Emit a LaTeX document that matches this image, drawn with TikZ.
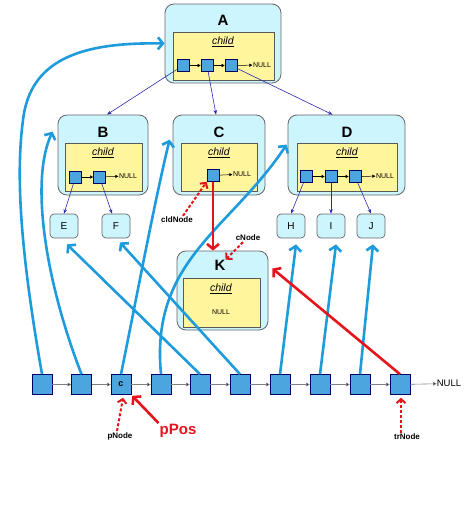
\documentclass[tikz,border=0pt]{standalone}
\usepackage{fontspec}
\setmainfont{Liberation Sans}
\usepackage{tikz}
\usetikzlibrary{calc}
\usetikzlibrary{arrows.meta}
\definecolor{boxcyan}{HTML}{CCF5FD}
\definecolor{boxyellow}{HTML}{FFF59D}
\definecolor{cellblue}{HTML}{4BA6DF}
\definecolor{linkblue}{HTML}{1E9BDC}
\definecolor{linkred}{HTML}{E5131B}
\definecolor{navy}{HTML}{2A2AB0}

\begin{document}
\begin{tikzpicture}[x=1pt,y=-1pt,
    tree/.style={draw=gray!80!black,fill=boxcyan,rounded corners=9pt,line width=0.8pt,inner sep=0pt},
    kids/.style={draw=gray!70!black,fill=boxyellow,line width=0.6pt,inner sep=0pt},
    leaf/.style={draw=gray!80!black,fill=boxcyan,rounded corners=4pt,line width=0.7pt,minimum width=28pt,minimum height=24pt,inner sep=0pt,font=\fontsize{10}{10}\selectfont},
    title/.style={inner sep=0pt,font=\fontsize{15}{15}\selectfont\bfseries},
    childtxt/.style={inner sep=0pt,font=\fontsize{10.5}{10.5}\selectfont},
    nulltxt/.style={inner sep=0.5pt,font=\fontsize{7}{7}\selectfont},
    cell/.style={draw=blue!40!black,fill=cellblue,minimum size=12pt,inner sep=0pt,line width=0.6pt},
    bigcell/.style={cell,minimum size=20pt,font=\fontsize{9}{9}\selectfont\bfseries},
    tag/.style={inner sep=1pt,font=\fontsize{8}{8}\selectfont\bfseries},
    small/.style={-{Triangle[length=3pt,width=3pt]},line width=0.5pt},
    list/.style={draw=gray,-{Triangle[length=3.5pt,width=3.5pt,fill=black]},line width=0.6pt},
    navyline/.style={navy,-{Stealth[length=4.5pt,width=3.5pt]},line width=0.6pt},
    blueline/.style={linkblue,line width=2.6pt,-{Straight Barb[length=5pt,width=12pt]}},
    redline/.style={linkred,line width=2.6pt,-{Straight Barb[length=5pt,width=12pt]}},
    redpoint/.style={linkred,line width=2pt,dash pattern=on 3pt off 2pt,-{Straight Barb[length=4pt,width=9pt]}}]
    \useasboundingbox (0,0) rectangle (474,524);

    % tree A
    \node[tree,minimum width=116pt,minimum height=79pt] (NodeA) at (223,43.5) {};
    \node[kids,minimum width=101pt,minimum height=48pt] (KidsA) at (223.5,56) {};
    \node[title] (LabelA) at (223,20) {A};
    \node[childtxt] (ChildA) at (223,42) {\underline{\textit{child}}};
    \node[cell] (A1) at (183,65.5) {};
    \node[cell] (A2) at (207,65.5) {};
    \node[cell] (A3) at (231,65.5) {};
    \node[nulltxt] (NullA) at (262,65) {NULL};
    \draw[small] (A1)--(A2);
    \draw[small] (A2)--(A3);
    \draw[small] (A3)--(NullA);

    % tree B
    \node[tree,minimum width=90pt,minimum height=80pt] (NodeB) at (103,155) {};
    \node[kids,minimum width=77pt,minimum height=48pt] (KidsB) at (103.5,167) {};
    \node[title] (LabelB) at (103,132) {B};
    \node[childtxt] (ChildB) at (103,153) {\underline{\textit{child}}};
    \node[cell] (B1) at (75.5,177) {};
    \node[cell] (B2) at (99.5,177) {};
    \node[nulltxt] (NullB) at (128,176) {NULL};
    \draw[small] (B1)--(B2);
    \draw[small] (B2)--(NullB);

    % tree C
    \node[tree,minimum width=92pt,minimum height=80pt] (NodeC) at (219,155) {};
    \node[kids,minimum width=76pt,minimum height=48pt] (KidsC) at (219,167) {};
    \node[title] (LabelC) at (219,132) {C};
    \node[childtxt] (ChildC) at (219,153) {\underline{\textit{child}}};
    \node[cell] (C1) at (213,175.5) {};
    \node[nulltxt] (NullC) at (242,174) {NULL};
    \draw[small] (C1)--(NullC);

    % tree D
    \node[tree,minimum width=117pt,minimum height=80pt] (NodeD) at (346.5,155) {};
    \node[kids,minimum width=100pt,minimum height=48pt] (KidsD) at (347,167) {};
    \node[title] (LabelD) at (347,132) {D};
    \node[childtxt] (ChildD) at (347,153) {\underline{\textit{child}}};
    \node[cell] (D1) at (306,176.5) {};
    \node[cell] (D2) at (331,176.5) {};
    \node[cell] (D3) at (355,176.5) {};
    \node[nulltxt] (NullD) at (385,176) {NULL};
    \draw[small] (D1)--(D2);
    \draw[small] (D2)--(D3);
    \draw[small] (D3)--(NullD);

    % leaves
    \node[leaf] (LeafE) at (64,226) {E};
    \node[leaf] (LeafF) at (116,226) {F};
    \node[leaf] (LeafH) at (291,226) {H};
    \node[leaf] (LeafI) at (331,226) {I};
    \node[leaf] (LeafJ) at (371,226) {J};

    % tree K
    \node[tree,minimum width=91pt,minimum height=79pt] (NodeK) at (222.5,290.5) {};
    \node[kids,minimum width=77pt,minimum height=49pt] (KidsK) at (221.5,302.5) {};
    \node[title] (LabelK) at (220,265) {K};
    \node[childtxt] (ChildK) at (221,289) {\underline{\textit{child}}};
    \node[nulltxt] (NullK) at (221,312) {NULL};

    \draw[navyline] (A1)--($(NodeB.north)+(4,0)$);
    \draw[navyline] (A2)--($(NodeC.north)+(-3,0)$);
    \draw[navyline] (A3)--($(NodeD.north)+(-14,0)$);
    \draw[navyline] (B1)--(LeafE.north);
    \draw[navyline] (B2)--($(LeafF.north)+(-4,0)$);
    \draw[navyline] (D1)--(LeafH.north);
    \draw[navyline] (D2)--(LeafI.north);
    \draw[navyline] (D3)--(LeafJ.north);

    % the list
    \node[bigcell] (L0) at (42,384.5) {};
    \node[bigcell] (L1) at (81.5,384.5) {};
    \node[bigcell] (L2) at (121,384.5) {c};
    \node[bigcell] (L3) at (161,384.5) {};
    \node[bigcell] (L4) at (200,384.5) {};
    \node[bigcell] (L5) at (240,384.5) {};
    \node[bigcell] (L6) at (280,384.5) {};
    \node[bigcell] (L7) at (320,384.5) {};
    \node[bigcell] (L8) at (360,384.5) {};
    \node[bigcell] (L9) at (400,384.5) {};
    \node[inner sep=0pt,font=\fontsize{9.5}{9.5}\selectfont] (NullL) at (449,383.5) {NULL};
    \draw[list] (L0)--(L1);
    \draw[list] (L1)--(L2);
    \draw[list] (L2)--(L3);
    \draw[list] (L3)--(L4);
    \draw[list] (L4)--(L5);
    \draw[list] (L5)--(L6);
    \draw[list] (L6)--(L7);
    \draw[list] (L7)--(L8);
    \draw[list] (L8)--(L9);
    \draw[list] (L9)--(NullL);

    \draw[blueline] (L0.north) .. controls (22,260) and (15,180) .. (23,120) .. controls (30,60) and (80,42) .. (NodeA.west);
    \draw[blueline] (L1.north) .. controls (45,280) and (30,180) .. ($(NodeB.north west)+(-5,17)$);
    \draw[blueline] (L2.north) .. controls (140,280) and (155,200) .. ($(NodeC.north west)+(-3,25)$);
    \draw[blueline] (L3.north) .. controls (150,260) and (230,230) .. ($(NodeD.north west)+(-1,30)$);
    \draw[blueline] (L4.north)--($(LeafE.south)+(3,6)$);
    \draw[blueline] (L5.north)--($(LeafF.south)+(4,4)$);
    \draw[blueline] (L6.north)--($(LeafH.south)+(5,6)$);
    \draw[blueline] (L7.north)--($(LeafI.south)+(5,6)$);
    \draw[blueline] (L8.north)--($(LeafJ.south)+(2,6)$);
    \draw[redline] (L9.north)--($(NodeK.east)+(4,-22)$);
    \draw[redline] (C1)--(NodeK.north -| C1);

    % pointers
    \node[tag] (CldNode) at (177,220) {cldNode};
    \node[tag] (CNode) at (248,238) {cNode};
    \node[tag] (PNode) at (120,436) {pNode};
    \node[inner sep=1pt,text=linkred,font=\fontsize{15}{15}\selectfont\bfseries] (PPos) at (178,431) {pPos};
    \node[tag] (TrNode) at (407,437) {trNode};
    \draw[redpoint] ($(CldNode.north)+(6,0)$)--(C1.south west);
    \draw[redpoint] ($(CNode.south)+(-5,0)$)--(LabelK.north east);
    \draw[redpoint] ($(PNode.north)+(-3,0)$)--($(L2.south)+(2,3)$);
    \draw[redline] (PPos.north west)--($(L2.south east)+(1,1)$);
    \draw[redpoint] ($(TrNode.north)+(-6,0)$)--($(L9.south)+(1,3)$);
  \end{tikzpicture}
\end{document}
